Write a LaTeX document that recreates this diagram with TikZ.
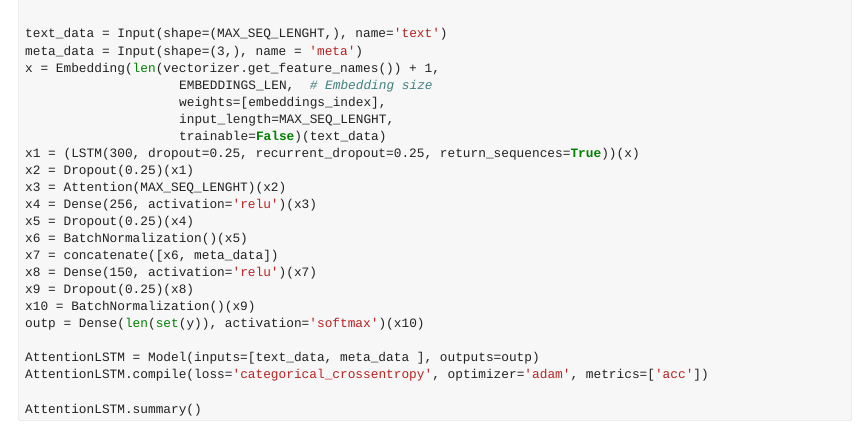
\documentclass[tikz,border=0pt]{standalone}
\usepackage{fontspec}
\setmonofont{Liberation Mono}
\definecolor{strc}{HTML}{BA2121}
\definecolor{kwc}{HTML}{008000}
\definecolor{cmc}{HTML}{408080}
\definecolor{bgc}{HTML}{F7F7F7}
\definecolor{bdc}{HTML}{CFCFCF}
\definecolor{txc}{HTML}{222222}
\newcommand\strg[1]{\textcolor{strc}{#1}}
\newcommand\kw[1]{\textcolor{kwc}{\bfseries #1}}
\newcommand\bi[1]{\textcolor{kwc}{#1}}
\newcommand\cmt[1]{\textcolor{cmc}{\itshape #1}}
\begin{document}
\begin{tikzpicture}[x=1pt,y=1pt,
  code/.style={anchor=base west,inner sep=0pt,font=\ttfamily\fontsize{12.8}{15}\selectfont,text=txc}]
\useasboundingbox (0,0) rectangle (862,427);
\fill[white] (0,0) rectangle (862,427);
\draw[bdc,fill=bgc,rounded corners=2pt] (18.5,6.5) rectangle (851.5,440);
\def\L#1{389-17.05*#1}
\node[code] (l0) at (25,{\L0}) {text\_data = Input(shape=(MAX\_SEQ\_LENGHT,), name=\strg{'text'})};
\node[code] (l1) at (25,{\L1}) {meta\_data = Input(shape=(3,), name = \strg{'meta'})};
\node[code] (l2) at (25,{\L2}) {x = Embedding(\bi{len}(vectorizer.get\_feature\_names()) + 1,};
\node[code] (l3) at (179,{\L3}) {EMBEDDINGS\_LEN,\ \ \cmt{\# Embedding size}};
\node[code] (l4) at (179,{\L4}) {weights=[embeddings\_index],};
\node[code] (l5) at (179,{\L5}) {input\_length=MAX\_SEQ\_LENGHT,};
\node[code] (l6) at (179,{\L6}) {trainable=\kw{False})(text\_data)};
\node[code] (l7) at (25,{\L7}) {x1 = (LSTM(300, dropout=0.25, recurrent\_dropout=0.25, return\_sequences=\kw{True}))(x)};
\node[code] (l8) at (25,{\L8}) {x2 = Dropout(0.25)(x1)};
\node[code] (l9) at (25,{\L9}) {x3 = Attention(MAX\_SEQ\_LENGHT)(x2)};
\node[code] (l10) at (25,{\L{10}}) {x4 = Dense(256, activation=\strg{'relu'})(x3)};
\node[code] (l11) at (25,{\L{11}}) {x5 = Dropout(0.25)(x4)};
\node[code] (l12) at (25,{\L{12}}) {x6 = BatchNormalization()(x5)};
\node[code] (l13) at (25,{\L{13}}) {x7 = concatenate([x6, meta\_data])};
\node[code] (l14) at (25,{\L{14}}) {x8 = Dense(150, activation=\strg{'relu'})(x7)};
\node[code] (l15) at (25,{\L{15}}) {x9 = Dropout(0.25)(x8)};
\node[code] (l16) at (25,{\L{16}}) {x10 = BatchNormalization()(x9)};
\node[code] (l17) at (25,{\L{17}}) {outp = Dense(\bi{len}(\bi{set}(y)), activation=\strg{'softmax'})(x10)};
\node[code] (l19) at (25,{\L{19}}) {AttentionLSTM = Model(inputs=[text\_data, meta\_data ], outputs=outp)};
\node[code] (l20) at (25,{\L{20}}) {AttentionLSTM.compile(loss=\strg{'categorical\_crossentropy'}, optimizer=\strg{'adam'}, metrics=[\strg{'acc'}])};
\node[code] (l22) at (25,{\L{22}}) {AttentionLSTM.summary()};
\end{tikzpicture}
\end{document}
